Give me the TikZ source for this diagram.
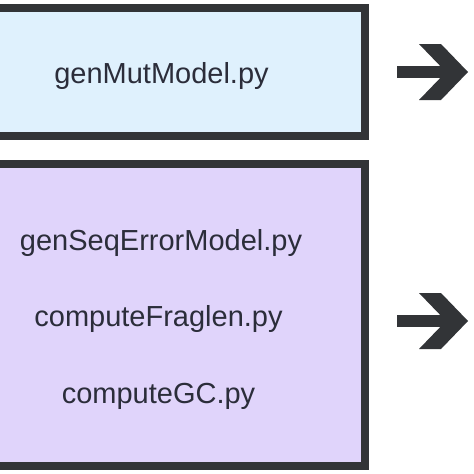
\documentclass[tikz,border=0pt]{standalone}
\usepackage{fontspec}
\setmainfont{Liberation Sans}
\definecolor{bordergray}{HTML}{323437}
\definecolor{topfill}{HTML}{DFF1FD}
\definecolor{botfill}{HTML}{E0D4FB}
\definecolor{txtdark}{HTML}{2B2D3A}
\begin{document}
\begin{tikzpicture}[x=1pt,y=-1pt,
  box/.style={draw=bordergray,line width=8pt},
  label/.style={anchor=base,text=txtdark,font=\fontsize{29}{34}\selectfont,inner sep=0pt},
  arrowshape/.style={fill=bordergray,draw=none}]
\useasboundingbox (0,0) rectangle (474,474);
\clip (0,0) rectangle (474,474);
\fill[white] (0,0) rectangle (474,474);
% top box
\draw[box,fill=topfill] (-50,8) rectangle (365,136);
\node[label] (mut) at (161.5,83.3) {genMutModel.py};
% bottom box
\draw[box,fill=botfill] (-50,163.5) rectangle (365,466);
\node[label] (seq) at (161,250) {genSeqErrorModel.py};
\node[label] (frag) at (158.5,326.7) {computeFraglen.py};
\node[label] (gc) at (158.5,403) {computeGC.py};
% arrows
\fill[arrowshape] (397,66) rectangle (452,78);
\fill[arrowshape] (419,44) -- (441,44) -- (468,72) -- (441,100) -- (419,100) -- (446,72) -- cycle;
\fill[arrowshape] (397,315) rectangle (452,327);
\fill[arrowshape] (419,293) -- (441,293) -- (468,321) -- (441,349) -- (419,349) -- (446,321) -- cycle;
\end{tikzpicture}
\end{document}
